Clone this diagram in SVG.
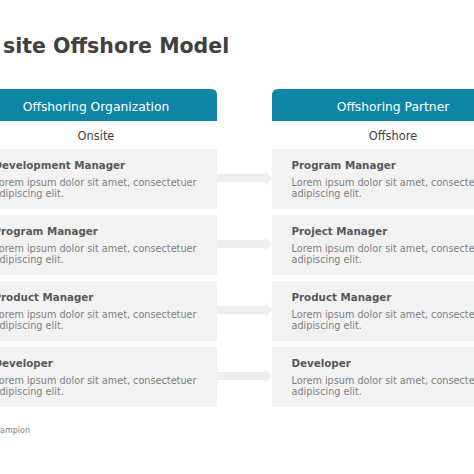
<svg xmlns="http://www.w3.org/2000/svg" width="474" height="474" viewBox="0 0 474 474">
<defs>
<style>
.hdr{fill:#1086a6}
.card{fill:#f2f2f2}
.arrow{fill:#eeeeee}
.ttl{font-family:"DejaVu Sans",Verdana,sans-serif;font-weight:bold;font-size:20.5px;fill:#404040}
.htxt{font-family:"DejaVu Sans",Verdana,sans-serif;font-size:12.3px;fill:#ffffff;text-anchor:middle}
.sub{font-family:"DejaVu Sans",Verdana,sans-serif;font-size:11.4px;fill:#404040;text-anchor:middle}
.h{font-family:"DejaVu Sans",Verdana,sans-serif;font-weight:bold;font-size:10.3px;fill:#595959}
.b{font-family:"DejaVu Sans",Verdana,sans-serif;font-size:9.7px;fill:#7f7f7f}
.foot{font-family:"DejaVu Sans",Verdana,sans-serif;font-size:8px;fill:#7f7f7f}
</style>
</defs>
<rect width="474" height="474" fill="#ffffff"/>
<text class="ttl" x="3" y="53">site Offshore Model</text>

<g id="connectors">
<path class="arrow" d="M215,174 H265 V171 L272,178 L265,185 V182 H215 Z"/>
<path class="arrow" d="M215,240 H265 V237 L272,244 L265,251 V248 H215 Z"/>
<path class="arrow" d="M215,306 H265 V303 L272,310 L265,317 V314 H215 Z"/>
<path class="arrow" d="M215,372 H265 V369 L272,376 L265,383 V380 H215 Z"/>
</g>

<g id="left-header">
<path class="hdr" d="M-25,121 V89 H211 Q217,89 217,95 V121 Z"/>
<text class="htxt" x="96" y="110.5">Offshoring Organization</text>
<text class="sub" x="96" y="139.5">Onsite</text>
</g>
<g id="right-header">
<path class="hdr" d="M272,121 V95 Q272,89 278,89 H514 V121 Z"/>
<text class="htxt" x="393" y="110.5">Offshoring Partner</text>
<text class="sub" x="393" y="139.5">Offshore</text>
</g>

<g id="onsite-1">
<rect class="card" x="-25.5" y="149" width="242.5" height="60"/>
<text class="h" x="-6.5" y="168.5">Development Manager</text>
<text class="b" x="-6.5" y="186">Lorem ipsum dolor sit amet, consectetuer</text>
<text class="b" x="-6.5" y="196.5">adipiscing elit.</text>
</g>
<g id="onsite-2">
<rect class="card" x="-25.5" y="215" width="242.5" height="60"/>
<text class="h" x="-6.5" y="234.5">Program Manager</text>
<text class="b" x="-6.5" y="252">Lorem ipsum dolor sit amet, consectetuer</text>
<text class="b" x="-6.5" y="262.5">adipiscing elit.</text>
</g>
<g id="onsite-3">
<rect class="card" x="-25.5" y="281" width="242.5" height="60"/>
<text class="h" x="-6.5" y="300.5">Product Manager</text>
<text class="b" x="-6.5" y="318">Lorem ipsum dolor sit amet, consectetuer</text>
<text class="b" x="-6.5" y="328.5">adipiscing elit.</text>
</g>
<g id="onsite-4">
<rect class="card" x="-25.5" y="347" width="242.5" height="60"/>
<text class="h" x="-6.5" y="366.5">Developer</text>
<text class="b" x="-6.5" y="384">Lorem ipsum dolor sit amet, consectetuer</text>
<text class="b" x="-6.5" y="394.5">adipiscing elit.</text>
</g>

<g id="offshore-1">
<rect class="card" x="272" y="149" width="242.5" height="60"/>
<text class="h" x="291.5" y="168.5">Program Manager</text>
<text class="b" x="291.5" y="186">Lorem ipsum dolor sit amet, consectetuer</text>
<text class="b" x="291.5" y="196.5">adipiscing elit.</text>
</g>
<g id="offshore-2">
<rect class="card" x="272" y="215" width="242.5" height="60"/>
<text class="h" x="291.5" y="234.5">Project Manager</text>
<text class="b" x="291.5" y="252">Lorem ipsum dolor sit amet, consectetuer</text>
<text class="b" x="291.5" y="262.5">adipiscing elit.</text>
</g>
<g id="offshore-3">
<rect class="card" x="272" y="281" width="242.5" height="60"/>
<text class="h" x="291.5" y="300.5">Product Manager</text>
<text class="b" x="291.5" y="318">Lorem ipsum dolor sit amet, consectetuer</text>
<text class="b" x="291.5" y="328.5">adipiscing elit.</text>
</g>
<g id="offshore-4">
<rect class="card" x="272" y="347" width="242.5" height="60"/>
<text class="h" x="291.5" y="366.5">Developer</text>
<text class="b" x="291.5" y="384">Lorem ipsum dolor sit amet, consectetuer</text>
<text class="b" x="291.5" y="394.5">adipiscing elit.</text>
</g>

<text class="foot" x="-10.6" y="432.5">Champion</text>
</svg>
